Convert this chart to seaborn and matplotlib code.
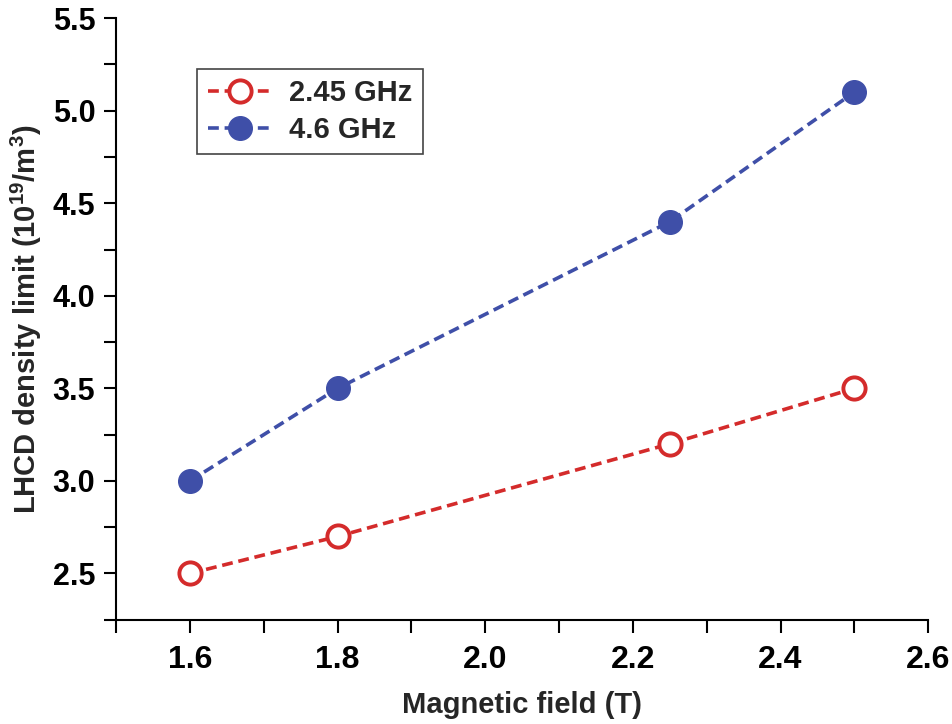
import matplotlib
matplotlib.use("Agg")
import matplotlib.pyplot as plt
import seaborn as sns
import pandas as pd
from matplotlib.ticker import MultipleLocator, FormatStrFormatter

# datos
campo = [1.6, 1.8, 2.25, 2.5]
dens_245 = [2.5, 2.7, 3.2, 3.5]
dens_46 = [3.0, 3.5, 4.4, 5.1]
series = ["2.45 GHz", "4.6 GHz"]
xticks = [1.6, 1.8, 2.0, 2.2, 2.4, 2.6]

sns.set_style("ticks")
plt.rcParams["font.family"] = ["Liberation Sans", "DejaVu Sans"]
plt.rcParams["font.weight"] = "bold"
plt.rcParams["mathtext.fontset"] = "custom"
plt.rcParams["mathtext.rm"] = "Liberation Sans:bold"
plt.rcParams["mathtext.bf"] = "Liberation Sans:bold"

df = pd.DataFrame({
    "campo": campo * 2,
    "dens": dens_245 + dens_46,
    "serie": [series[0]] * len(campo) + [series[1]] * len(campo),
})

rojo = "#d42b2b"
azul = "#3f4fa8"

fig = plt.figure(figsize=(9.52, 7.24), dpi=100)
ax = fig.add_axes([0.122, 0.144, 0.853, 0.831])

sub = df[df.serie == series[0]]
sns.lineplot(data=sub, x="campo", y="dens", ax=ax, color=rojo, lw=2.6,
             linestyle=(0, (3, 1.6)), marker="o", markersize=16,
             markerfacecolor="white", markeredgecolor=rojo, markeredgewidth=2.8,
             label=series[0])
sub = df[df.serie == series[1]]
sns.lineplot(data=sub, x="campo", y="dens", ax=ax, color=azul, lw=2.6,
             linestyle=(0, (3, 1.6)), marker="o", markersize=17,
             markerfacecolor=azul, markeredgecolor=azul, markeredgewidth=1,
             label=series[1])

ax.set_xlim(1.5, 2.6)
ax.set_ylim(2.25, 5.5)
ax.xaxis.set_minor_locator(MultipleLocator(0.1))
ax.yaxis.set_major_locator(MultipleLocator(0.5))
ax.yaxis.set_minor_locator(MultipleLocator(0.25))
ax.set_xticks(xticks)
ax.set_xticklabels([f"{v:.1f}" for v in xticks])
ax.yaxis.set_major_formatter(FormatStrFormatter("%.1f"))

for s in ["top", "right"]:
    ax.spines[s].set_visible(False)
for s in ["left", "bottom"]:
    ax.spines[s].set_linewidth(1.5)
    ax.spines[s].set_color("black")
ax.tick_params(which="both", direction="out", width=1.5, colors="black")
ax.tick_params(which="major", length=9)
ax.tick_params(which="minor", length=9)
ax.tick_params(axis="x", which="major", pad=9)
ax.tick_params(axis="y", which="major", pad=6)
for t in ax.get_yticklabels():
    t.set_fontweight("bold")
    t.set_fontsize(22)
for t in ax.get_xticklabels():
    t.set_fontweight("bold")
    t.set_fontsize(23)

ax.set_xlabel("Magnetic field (T)", fontsize=21, fontweight="bold", labelpad=12)
ax.set_ylabel(r"LHCD density limit (10$^{\mathbf{19}}$/m$^{\mathbf{3}}$)",
              fontsize=21, fontweight="bold", labelpad=6)

leg = ax.legend(loc="upper left", bbox_to_anchor=(0.1, 0.915), borderaxespad=0,
                fancybox=False, framealpha=1, edgecolor="#444444",
                prop={"size": 21, "weight": "bold"},
                handlelength=2.2, handletextpad=0.6, borderpad=0.35, labelspacing=0.3)
leg.get_frame().set_linewidth(1.2)

fig.savefig("out.png", dpi=100)
